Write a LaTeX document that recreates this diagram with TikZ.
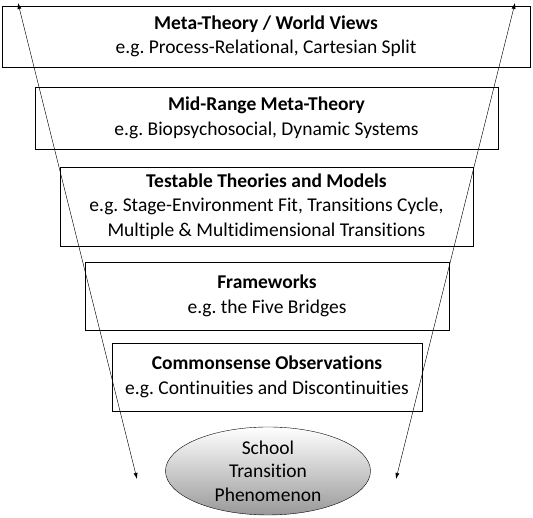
\documentclass[tikz,border=0pt]{standalone}
\usepackage{fontspec}
\setmainfont{Carlito}[Ligatures=NoCommon]
\usetikzlibrary{shapes.geometric, arrows.meta, positioning, calc}
\frenchspacing

\tikzset{
  level/.style={draw, thick, align=center, inner sep=0pt,
    font=\fontsize{19.5}{24.5}\selectfont},
  phenom/.style={ellipse, draw, align=center, inner sep=0pt,
    minimum width=205pt, minimum height=88pt,
    top color=white, bottom color=black!40,
    font=\fontsize{19.5}{23.5}\selectfont},
  flow/.style={{Latex[length=6pt,width=4pt]}-{Latex[length=6pt,width=4pt]}, thin}
}

\begin{document}
\begin{tikzpicture}[x=1pt,y=1pt]
\useasboundingbox (0,0) rectangle (533,518);
% the five levels, widest at the top
\node[level, minimum width=528pt, minimum height=61pt] (world) at (266,481.5)
  {\textbf{Meta-Theory / World Views}\\e.g. Process-Relational, Cartesian Split};
\node[level, minimum width=463pt, minimum height=62pt] (midrange) at (266.5,400)
  {\textbf{Mid-Range Meta-Theory}\\e.g. Biopsychosocial, Dynamic Systems};
\node[level, minimum width=413pt, minimum height=79pt] (testable) at (266.5,311.5)
  {\textbf{Testable Theories and Models}\\e.g. Stage-Environment Fit, Transitions Cycle,\\Multiple \& Multidimensional Transitions};
\node[level, minimum width=364pt, minimum height=68pt] (frameworks) at (267,222)
  {\textbf{Frameworks}\\e.g. the Five Bridges};
\node[level, minimum width=310pt, minimum height=68pt] (commonsense) at (267,141)
  {\textbf{Commonsense Observations}\\e.g. Continuities and Discontinuities};

\node[phenom] (school) at (268,47) {School\\Transition\\Phenomenon};

% the two long arrows
\coordinate (topL) at (18,515);
\coordinate (botL) at (137,39);
\coordinate (topR) at (515,515);
\coordinate (botR) at (396,39);
\draw[flow] (botL) -- (topL);
\draw[flow] (botR) -- (topR);
\end{tikzpicture}
\end{document}
